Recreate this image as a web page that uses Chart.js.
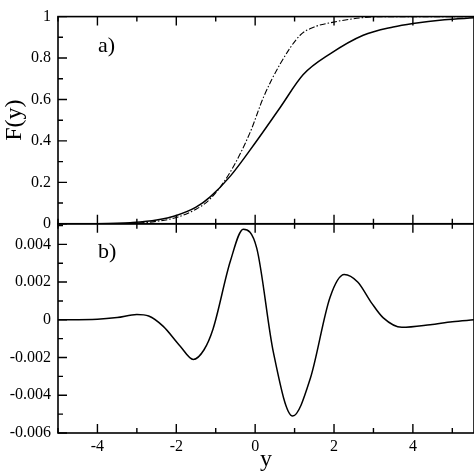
<!DOCTYPE html>
<html><head><meta charset="utf-8">
<script src="https://cdn.jsdelivr.net/npm/chart.js@4"></script>
<style>html,body{margin:0;padding:0;background:#fff}#c{display:block}</style>
</head><body>
<div style="width:474px;height:474px"><canvas id="c"></canvas></div>
<script>
const xSolid = [-5,-4,-3.5,-3.17,-2.5,-2,-1.5,-1.14,-0.63,0,0.63,1.22,1.9,2.74,3.5,4.0,4.8,5.55];
const fSolid = [0,0.0005,0.002,0.005,0.018,0.04,0.08,0.13,0.23,0.39,0.56,0.72,0.82,0.91,0.95,0.967,0.985,0.994];
const xDash = [-5,-4,-3,-2.5,-2,-1.5,-1.14,-0.63,-0.13,0.21,0.63,1.14,1.5,1.9,2.74,3.5,5.55];
const fDash = [0,0.0002,0.003,0.012,0.03,0.07,0.12,0.25,0.44,0.61,0.77,0.91,0.95,0.97,0.995,1,1];
const xDeriv = [-5,-4,-3.5,-3.0,-2.7,-2.33,-1.9,-1.57,-1.3,-1.07,-0.63,-0.3,0.04,0.46,0.95,1.4,1.9,2.26,2.6,2.95,3.25,3.72,4.44,5.0,5.55];
const dDeriv = [0,0.00003,0.00012,0.00028,0.0002,-0.00035,-0.0014,-0.0021,-0.0016,-0.0005,0.0031,0.0048,0.0038,-0.0017,-0.0051,-0.0031,0.0012,0.0024,0.0020,0.0009,0.0001,-0.0004,-0.00026,-0.0001,0];
const xTicks = [-4,-2,0,2,4];
const yTicksTop = [0,0.2,0.4,0.6,0.8,1];
const yTicksBot = [-0.006,-0.004,-0.002,0,0.002,0.004];

const serif = 'Liberation Serif';
const pts = (xs, ys) => xs.map((x,i)=>({x, y: ys[i]}));

const decor = {
  id:'decor',
  afterDraw(chart){
    const ctx = chart.ctx, xs = chart.scales.x, y1 = chart.scales.y1, y2 = chart.scales.y2;
    const L = xs.left, R = xs.right;
    ctx.save();
    ctx.strokeStyle = '#000'; ctx.lineWidth = 1.6;
    ctx.strokeRect(L, y1.top, R-L, y1.bottom-y1.top);
    ctx.strokeRect(L, y2.top, R-L, y2.bottom-y2.top);
    ctx.lineWidth = 1.4;
    ctx.beginPath();
    for (let v=-5; v<=5.5; v+=1) {
      const px = xs.getPixelForValue(v);
      const len = (Math.round(v)%2===0) ? 9 : 5;
      ctx.moveTo(px, y1.top); ctx.lineTo(px, y1.top+len);
      ctx.moveTo(px, y1.bottom); ctx.lineTo(px, y1.bottom-len);
      ctx.moveTo(px, y2.top); ctx.lineTo(px, y2.top+len);
      ctx.moveTo(px, y2.bottom); ctx.lineTo(px, y2.bottom-len);
    }
    for (let k=0; k<=10; k++) {
      const py = y1.getPixelForValue(k*0.1);
      const len = k%2===0 ? 9 : 5;
      ctx.moveTo(L, py); ctx.lineTo(L+len, py);
    }
    for (let k=-6; k<=5; k++) {
      const py = y2.getPixelForValue(k*0.001);
      const len = k%2===0 ? 9 : 5;
      ctx.moveTo(L, py); ctx.lineTo(L+len, py);
    }
    ctx.stroke();
    ctx.fillStyle = '#000';
    ctx.font = '22px "' + serif + '"';
    ctx.textBaseline = 'middle';
    ctx.fillText('a)', 98, 46);
    ctx.fillText('b)', 98, 252);
    ctx.restore();
  }
};

new Chart(document.getElementById('c'), {
  type:'line',
  data:{datasets:[
    {data:pts(xSolid,fSolid), yAxisID:'y1', borderColor:'#000', borderWidth:1.5, pointRadius:0, cubicInterpolationMode:'monotone'},
    {data:pts(xDash,fDash), yAxisID:'y1', borderColor:'#000', borderWidth:1.1, borderDash:[6,2,1.5,2], pointRadius:0, cubicInterpolationMode:'monotone'},
    {data:pts(xDeriv,dDeriv), yAxisID:'y2', borderColor:'#000', borderWidth:1.5, pointRadius:0, cubicInterpolationMode:'monotone'}
  ]},
  options:{
    responsive:true, maintainAspectRatio:false, animation:false,
    layout:{padding:{top:7,right:0,left:0,bottom:0}},
    plugins:{legend:{display:false}, tooltip:{enabled:false}},
    scales:{
      x:{type:'linear', min:-5, max:5.55,
        grid:{display:false, drawTicks:false}, border:{display:false},
        afterBuildTicks(s){ s.ticks = xTicks.map(v=>({value:v})); },
        afterFit(s){ s.height = 41; },
        ticks:{color:'#000', font:{family:serif, size:16}, padding:4, maxRotation:0},
        title:{display:true, text:'y', color:'#000', font:{family:serif, size:24}, padding:{top:-6,bottom:0}}
      },
      y2:{type:'linear', stack:'v', stackWeight:1.01, min:-0.006, max:0.00509, offset:false,
        grid:{display:false, drawTicks:false}, border:{display:false},
        afterBuildTicks(s){ s.ticks = yTicksBot.map(v=>({value:v})); },
        afterFit(s){ s.width = 58; },
        ticks:{color:'#000', font:{family:serif, size:16}, padding:7, callback:v=>String(Number(v.toFixed(4)))}
      },
      y1:{type:'linear', stack:'v', stackWeight:1, min:0, max:1, offset:false,
        grid:{display:false, drawTicks:false}, border:{display:false},
        afterBuildTicks(s){ s.ticks = yTicksTop.map(v=>({value:v})); },
        afterFit(s){ s.width = 58; },
        ticks:{color:'#000', font:{family:serif, size:16}, padding:7, callback:v=>String(v)},
        title:{display:true, text:'F(y)', color:'#000', font:{family:serif, size:24}, padding:{top:0,bottom:0}}
      }
    }
  },
  plugins:[decor]
});
</script>
</body></html>
